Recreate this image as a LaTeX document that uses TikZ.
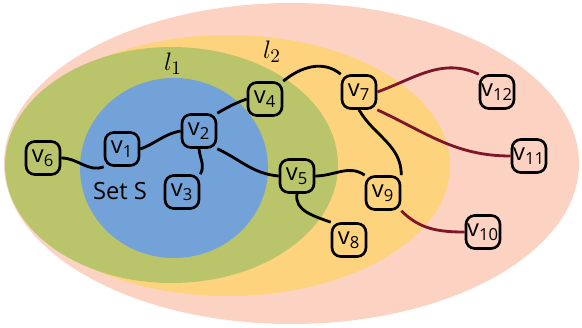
\documentclass[tikz,border=0pt]{standalone}
\usepackage{fontspec}
\setsansfont{Open Sans}
\begin{document}
\begin{tikzpicture}[x=0.02cm,y=-0.02cm,
  vert/.style={draw=black,line width=1.5pt,rounded corners=5pt,minimum width=0.68cm,minimum height=0.66cm,inner sep=0pt,font=\sffamily\fontsize{13.5}{13.5}\selectfont},
  edge/.style={line width=1.6pt,black},
  redge/.style={line width=1.6pt,color=darkred}]
\definecolor{pinkbg}{HTML}{FCD3C2}
\definecolor{yellowbg}{HTML}{FDD37E}
\definecolor{greenbg}{HTML}{BAC46A}
\definecolor{bluebg}{HTML}{72A2D8}
\definecolor{darkred}{HTML}{7E1528}
\useasboundingbox (0,0) rectangle (582,328);
\fill[pinkbg] (291.5,163.5) ellipse [x radius=287.5, y radius=160.5];
\fill[yellowbg] (228,165.5) ellipse [x radius=222, y radius=130.5];
\fill[greenbg] (171.5,165) ellipse [x radius=166.5, y radius=118];
\fill[bluebg] (174,168) ellipse [x radius=94, y radius=90];
\node (l1) at (173,64) {\fontsize{15}{15}\selectfont$l_1$};
\node (l2) at (272,52) {\fontsize{15}{15}\selectfont$l_2$};
\node[font=\sffamily\fontsize{13.5}{13.5}\selectfont] (setS) at (120,191) {Set S};
\node[vert] (v6) at (43,158) {v\textsubscript{6}};
\node[vert] (v1) at (122,149) {v\textsubscript{1}};
\node[vert] (v2) at (199,131) {v\textsubscript{2}};
\node[vert] (v3) at (182,192) {v\textsubscript{3}};
\node[vert] (v4) at (265,99) {v\textsubscript{4}};
\node[vert] (v5) at (297,176) {v\textsubscript{5}};
\node[vert] (v7) at (359,92) {v\textsubscript{7}};
\node[vert] (v8) at (349,240) {v\textsubscript{8}};
\node[vert] (v9) at (383,193) {v\textsubscript{9}};
\node[vert] (v10) at (483,232) {v\textsubscript{10}};
\node[vert] (v11) at (529,156) {v\textsubscript{11}};
\node[vert] (v12) at (497,92) {v\textsubscript{12}};
\draw[edge] (v6.east) to[out=0,in=200] (v1.south west);
\draw[edge] (v1.east) to[out=20,in=190] (v2.west);
\draw[edge] (v2.north east) to[out=30,in=200] (v4.west);
\draw[edge] (v2.south) to[out=-85,in=60] (v3.north east);
\draw[edge] (v2.south east) to[out=-25,in=175] (v5.west);
\draw[edge] (v4.north east) to[out=40,in=140] (v7.north west);
\draw[edge] (v7.south) to[out=-60,in=90] (v9.north east);
\draw[edge] (v5.east) to[out=0,in=145] (v9.north west);
\draw[edge] (v5.south) to[out=-100,in=160] (v8.north west);
\draw[redge] (v7.east) to[out=20,in=155] (v12.north west);
\draw[redge] (v7.south east) to[out=-25,in=180] (v11.west);
\draw[redge] (v9.south east) to[out=-45,in=180] (v10.west);
\end{tikzpicture}
\end{document}
